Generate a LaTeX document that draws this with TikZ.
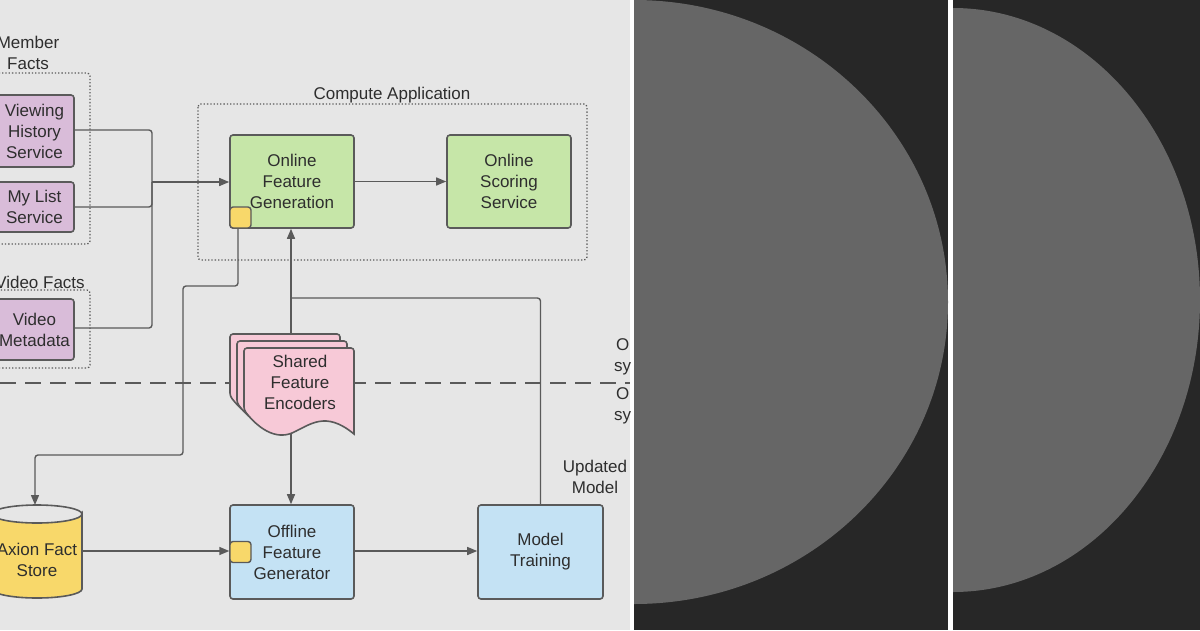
\documentclass[tikz,border=0pt]{standalone}
\usepackage{fontspec}
\setmainfont{Liberation Sans}
\usetikzlibrary{shapes.geometric,arrows.meta}
\definecolor{bgl}{HTML}{E6E6E6}
\definecolor{ln}{HTML}{5A5A5A}
\definecolor{txt}{HTML}{2E2E2E}
\definecolor{purp}{HTML}{D9BCD9}
\definecolor{grn}{HTML}{C6E6A8}
\definecolor{blu}{HTML}{C4E2F4}
\definecolor{yel}{HTML}{F8D86A}
\definecolor{pnk}{HTML}{F7C9D7}
\definecolor{dark}{HTML}{272727}
\definecolor{disc}{HTML}{666666}
\tikzset{
  x=1pt,y=-1pt,
  box/.style={draw=ln,line width=1.6pt,rounded corners=3pt,text=txt,align=center,font=\fontsize{17}{21}\selectfont,inner sep=0pt},
  lbl/.style={text=txt,align=center,font=\fontsize{17}{21}\selectfont,inner sep=0pt},
  grp/.style={draw=ln,dotted,line width=1.3pt,rounded corners=3pt},
  con/.style={draw=ln,line width=1.4pt,rounded corners=3pt},
  arr/.style={con,-{Triangle[length=10pt,width=8pt]}},
  sq/.style={draw=ln,line width=1.4pt,fill=yel,rounded corners=3pt,minimum size=21pt,inner sep=0pt},
  doc/.style={draw=ln,line width=1.6pt,fill=pnk}
}
\begin{document}
\begin{tikzpicture}
\useasboundingbox (0,0) rectangle (1200,630);
\fill[white] (0,0) rectangle (1200,630);
% right panels
\begin{scope}
\clip (634,0) rectangle (948,630);
\fill[dark] (634,0) rectangle (948,630);
\fill[disc] (634,302) ellipse [x radius=314, y radius=302];
\end{scope}
\begin{scope}
\clip (953,0) rectangle (1200,630);
\fill[dark] (953,0) rectangle (1200,630);
\fill[disc] (953,300) ellipse [x radius=247, y radius=292];
\end{scope}
% diagram panel
\begin{scope}
\clip (0,0) rectangle (630,630);
\fill[bgl] (0,0) rectangle (630,630);
\draw[ln,line width=1.3pt,dash pattern=on 16pt off 9pt] (0,383) -- (630,383);
% groups
\draw[grp] (-10,73) rectangle (90,244);
\node[lbl] (mf) at (28,53) {Member\\Facts};
\draw[grp] (-10,290) rectangle (90,368);
\node[lbl] (vf) at (40,282) {Video Facts};
\draw[grp] (198,104) rectangle (587,260);
\node[lbl] (ca) at (392,95) {Compute Application};
% nodes
\node[box,fill=purp,minimum width=79pt,minimum height=72pt] (vhs) at (34.5,131) {Viewing\\History\\Service};
\node[box,fill=purp,minimum width=79pt,minimum height=50pt] (mls) at (34.5,207) {My List\\Service};
\node[box,fill=purp,minimum width=79pt,minimum height=61pt] (vm) at (34.5,329.5) {Video\\Metadata};
\node[box,fill=grn,minimum width=124pt,minimum height=93pt] (ofg) at (292,181.5) {Online\\Feature\\Generation};
\node[box,fill=grn,minimum width=124pt,minimum height=93pt] (oss) at (509,181.5) {Online\\Scoring\\Service};
\node[sq] (sq1) at (240.5,217.5) {};
\node[box,fill=blu,minimum width=124pt,minimum height=94pt] (offg) at (292,552) {Offline\\Feature\\Generator};
\node[sq] (sq2) at (240.5,552) {};
\node[box,fill=blu,minimum width=125pt,minimum height=94pt] (mt) at (540.5,552) {Model\\Training};
% cylinder
\draw[draw=ln,line width=1.6pt,fill=yel] (-8,514) arc[start angle=180,end angle=360,x radius=45,y radius=-9] -- (82,589) arc[start angle=0,end angle=-180,x radius=45,y radius=-9] -- cycle;
\draw[draw=ln,line width=1.6pt] (-8,514) arc[start angle=180,end angle=0,x radius=45,y radius=-9];
\node[lbl] (afs) at (37,560) {Axion Fact\\Store};
\coordinate (afstop) at (35,505);
\coordinate (afsright) at (82,551);
% documents
\foreach \d in {14,7,0}{
 \draw[doc,rounded corners=3pt] (354-\d,434-\d) -- (354-\d,348-\d) -- (244-\d,348-\d) -- (244-\d,410-\d) [sharp corners] .. controls (258-\d,428-\d) and (275-\d,440-\d) .. (292-\d,433-\d) .. controls (310-\d,425-\d) and (325-\d,410-\d) .. (354-\d,434-\d) -- cycle;
}
\node[lbl] (sfe) at (300,382) {Shared\\Feature\\Encoders};
\coordinate (sfetop) at (291,335);
\coordinate (sfebot) at (291,433);
\coordinate (mj) at (291,298);
% texts right
\node[lbl,anchor=west] (on) at (614,357) {O\\sy};
\node[lbl,anchor=west] (off) at (614,406) {O\\sy};
\node[lbl] (um) at (595,477) {Updated\\Model};
% connectors
\coordinate (j) at (152,182);
\draw[con] (vhs.east |- 0,130) -| (j);
\draw[con] (mls.east) -| (j);
\draw[con] (vm.east |- 0,328) -| (j);
\draw[arr] (j) -- (ofg.west |- j);
\draw[arr] (ofg.east) -- (oss.west);
\draw[arr] (sq1.south -| 238,0) -- (238,286) -- (183,286) -- (183,455) -- (35,455) -- (afstop);
\draw[arr] (sfetop) -- (sfetop |- ofg.south);
\draw[con] (mt.north) |- (mj);
\draw[arr] (sfebot) -- (sfebot |- offg.north);
\draw[arr] (afsright) -- (sq2.west |- afsright);
\draw[arr] (offg.east |- afsright) -- (mt.west |- afsright);
\end{scope}
\end{tikzpicture}
\end{document}
